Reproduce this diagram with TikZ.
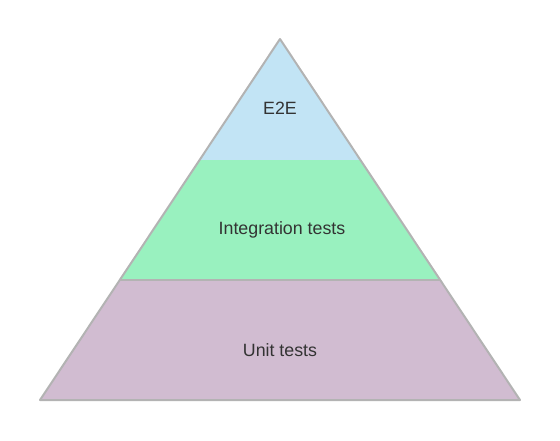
\documentclass[tikz,border=0pt]{standalone}
\usepackage{fontspec}
\setmainfont{Liberation Sans}
\usepackage{tikz}
\definecolor{toplayer}{HTML}{C2E4F5}
\definecolor{midlayer}{HTML}{99F1BF}
\definecolor{botlayer}{HTML}{D1BCD1}
\definecolor{edgegray}{HTML}{B3B3B3}
\definecolor{textgray}{HTML}{333333}

\begin{document}
\begin{tikzpicture}[x=1pt, y=-1pt,
    layer/.style={draw=none},
    outline/.style={draw=edgegray, line width=2pt, line join=round},
    label/.style={text=textgray, font=\fontsize{17.8}{20}\selectfont}]
    \useasboundingbox (0,0) rectangle (560,440);

    % Layers {top, mid, bot}
    \fill [toplayer] (280,39) -- (360,160) -- (200,160) -- cycle;
    \fill [midlayer] (200,160) -- (360,160) -- (440,280) -- (120,280) -- cycle;
    \fill [botlayer] (120,280) -- (440,280) -- (520,400) -- (40,400) -- cycle;

    % Outline
    \draw [outline] (280,39) -- (520,400) -- (40,400) -- cycle;
    \draw [outline] (120,280) -- (440,280);

    % Labels
    \node [label] (e2e)   at (280,108) {E2E};
    \node [label] (integ) at (282,230) {Integration tests};
    \node [label] (unit)  at (280,350) {Unit tests};
\end{tikzpicture}
\end{document}
